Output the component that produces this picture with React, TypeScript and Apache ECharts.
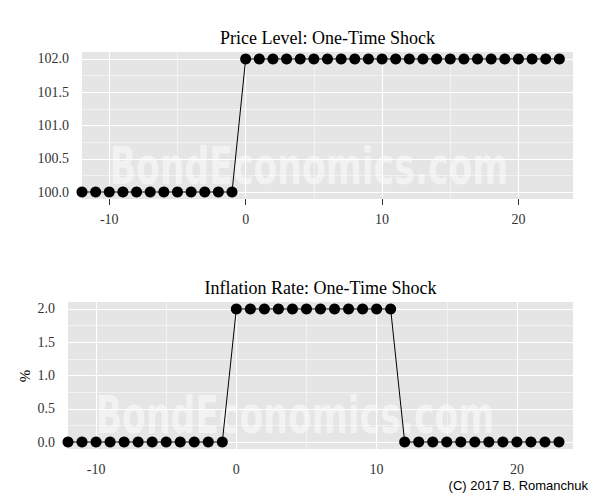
import React, { useEffect, useRef } from "react";
import * as echarts from "echarts";

const periods = [-12, -11, -10, -9, -8, -7, -6, -5, -4, -3, -2, -1, 0, 1, 2, 3, 4, 5, 6, 7, 8, 9, 10, 11, 12, 13, 14, 15, 16, 17, 18, 19, 20, 21, 22, 23];
const priceLevel = [100, 100, 100, 100, 100, 100, 100, 100, 100, 100, 100, 100, 102, 102, 102, 102, 102, 102, 102, 102, 102, 102, 102, 102, 102, 102, 102, 102, 102, 102, 102, 102, 102, 102, 102, 102];
const inflation = [0, 0, 0, 0, 0, 0, 0, 0, 0, 0, 0, 0, 2, 2, 2, 2, 2, 2, 2, 2, 2, 2, 2, 2, 0, 0, 0, 0, 0, 0, 0, 0, 0, 0, 0, 0];

const xTicks = [-10, 0, 10, 20];
const xMinor = [-5, 5, 15];
const yTicksTop = [100, 100.5, 101, 101.5, 102];
const yMinorTop = [100.25, 100.75, 101.25, 101.75];
const yTicksBottom = [0, 0.5, 1, 1.5, 2];
const yMinorBottom = [0.25, 0.75, 1.25, 1.75];

const titleTop = "Price Level: One-Time Shock";
const titleBottom = "Inflation Rate: One-Time Shock";
const yNameBottom = "%";
const caption = "(C) 2017 B. Romanchuk";
const watermark = "BondEconomics.com";

const SERIF = "'Liberation Serif', 'Times New Roman', serif";
const SANS = "'Liberation Sans', Arial, sans-serif";
const WM_FONT = "bold 52px 'DejaVu Sans Condensed', 'DejaVu Sans', sans-serif";

function gridLines(xMaj: number[], xMin: number[], yMaj: number[], yMin: number[]) {
  return [
    ...xMaj.map((v) => ({ xAxis: v, lineStyle: { width: 1.1 } })),
    ...xMin.map((v) => ({ xAxis: v, lineStyle: { width: 0.5 } })),
    ...yMaj.map((v) => ({ yAxis: v, lineStyle: { width: 1.1 } })),
    ...yMin.map((v) => ({ yAxis: v, lineStyle: { width: 0.5 } })),
  ];
}

export default function App() {
  const ref = useRef<HTMLDivElement>(null);
  useEffect(() => {
    document.body.style.margin = "0";
    if (!ref.current) return;
    const chart = echarts.init(ref.current, undefined, { renderer: "svg" });
    const axisLabelStyle = { color: "#333333", fontFamily: SERIF, fontSize: 14 };
    const xAxisCommon = {
      type: "value" as const,
      min: -12,
      max: 24,
      axisLine: { show: false },
      splitLine: { show: false },
      axisTick: { show: true, length: 6, customValues: xTicks, lineStyle: { color: "#333333", width: 1 } },
      axisLabel: { ...axisLabelStyle, margin: 13, customValues: xTicks, formatter: (v: number) => String(v) },
    };
    const yAxisCommon = (ticks: number[]) => ({
      type: "value" as const,
      axisLine: { show: false },
      splitLine: { show: false },
      axisTick: { show: true, length: 6, customValues: ticks, lineStyle: { color: "#333333", width: 1 } },
      axisLabel: { ...axisLabelStyle, margin: 13, customValues: ticks, formatter: (v: number) => v.toFixed(1) },
    });
    const gridLineSeries = (idx: number, data: number[], lines: any[]) => ({
      type: "line",
      xAxisIndex: idx,
      yAxisIndex: idx,
      data: periods.map((p, i) => [p, data[i]]),
      showSymbol: false,
      lineStyle: { opacity: 0 },
      silent: true,
      z: 1,
      markLine: {
        silent: true,
        z: 1,
        symbol: ["none", "none"],
        label: { show: false },
        lineStyle: { color: "#ffffff", type: "solid" },
        emphasis: { disabled: true },
        data: lines,
      },
    });
    const dataSeries = (idx: number, data: number[]) => ({
      type: "line",
      xAxisIndex: idx,
      yAxisIndex: idx,
      data: periods.map((p, i) => [p, data[i]]),
      symbol: "circle",
      symbolSize: 11,
      showSymbol: true,
      clip: true,
      itemStyle: { color: "#000000" },
      lineStyle: { color: "#000000", width: 1 },
      z: 5,
      silent: true,
    });
    chart.setOption({
      animation: false,
      backgroundColor: "#ffffff",
      grid: [
        { left: 82, top: 52, width: 491, height: 147, show: true, backgroundColor: "#e5e5e5", borderWidth: 0 },
        { left: 68, top: 302, width: 505, height: 147, show: true, backgroundColor: "#e5e5e5", borderWidth: 0 },
      ],
      xAxis: [
        { ...xAxisCommon, gridIndex: 0 },
        { ...xAxisCommon, gridIndex: 1 },
      ],
      yAxis: [
        { ...yAxisCommon(yTicksTop), gridIndex: 0, min: 99.895, max: 102.105 },
        { ...yAxisCommon(yTicksBottom), gridIndex: 1, min: -0.105, max: 2.105 },
      ],
      graphic: [
        {
          type: "text",
          z: 2,
          x: 309,
          y: 166,
          scaleX: 0.74,
          style: { text: watermark, fill: "rgba(255,255,255,0.5)", font: WM_FONT, align: "center", verticalAlign: "middle" },
        },
        {
          type: "text",
          z: 2,
          x: 295,
          y: 415,
          scaleX: 0.74,
          style: { text: watermark, fill: "rgba(255,255,255,0.5)", font: WM_FONT, align: "center", verticalAlign: "middle" },
        },
        {
          type: "text",
          x: 327.5,
          y: 47,
          style: { text: titleTop, fill: "#000000", font: `18px ${SERIF}`, align: "center", verticalAlign: "bottom" },
        },
        {
          type: "text",
          x: 320.5,
          y: 297,
          style: { text: titleBottom, fill: "#000000", font: `18px ${SERIF}`, align: "center", verticalAlign: "bottom" },
        },
        {
          type: "text",
          x: 25,
          y: 376,
          rotation: Math.PI / 2,
          style: { text: yNameBottom, fill: "#000000", font: `15px ${SERIF}`, align: "center", verticalAlign: "middle" },
        },
        {
          type: "text",
          x: 588,
          y: 485,
          style: { text: caption, fill: "#000000", font: `13px ${SANS}`, align: "right", verticalAlign: "middle" },
        },
      ],
      series: [
        gridLineSeries(0, priceLevel, gridLines(xTicks, xMinor, yTicksTop, yMinorTop)),
        gridLineSeries(1, inflation, gridLines(xTicks, xMinor, yTicksBottom, yMinorBottom)),
        dataSeries(0, priceLevel),
        dataSeries(1, inflation),
      ],
    });
    return () => chart.dispose();
  }, []);
  return <div ref={ref} style={{ width: 600, height: 500 }} />;
}
